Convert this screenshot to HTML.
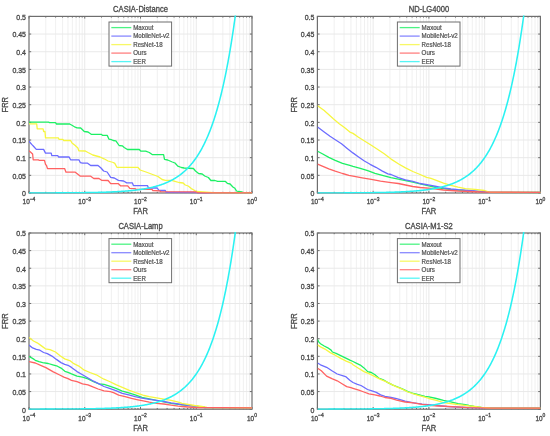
<!DOCTYPE html><html><head><meta charset="utf-8"><style>html,body{margin:0;padding:0;background:#fff;}svg{display:block;}text{font-family:"Liberation Sans",Arial,sans-serif;fill:#4a4a4a;stroke:#4a4a4a;stroke-width:0.3px;}</style></head><body>
<svg width="550" height="436" viewBox="0 0 550 436">
<defs><filter id="bl" x="0" y="0" width="550" height="436" filterUnits="userSpaceOnUse"><feGaussianBlur stdDeviation="0.4"/></filter><clipPath id="cTL"><rect x="29.00" y="15.40" width="223.00" height="178.10"/></clipPath><clipPath id="cTR"><rect x="317.40" y="15.40" width="223.00" height="178.10"/></clipPath><clipPath id="cBL"><rect x="29.00" y="232.00" width="223.00" height="177.70"/></clipPath><clipPath id="cBR"><rect x="317.40" y="232.00" width="223.00" height="177.70"/></clipPath></defs>
<rect width="550" height="436" fill="#fff"/>
<g filter="url(#bl)">
<g><line x1="45.78" y1="16.40" x2="45.78" y2="193.00" stroke="#ececec" stroke-width="0.8" stroke-dasharray="none"/><line x1="55.60" y1="16.40" x2="55.60" y2="193.00" stroke="#ececec" stroke-width="0.8" stroke-dasharray="none"/><line x1="62.56" y1="16.40" x2="62.56" y2="193.00" stroke="#ececec" stroke-width="0.8" stroke-dasharray="none"/><line x1="67.97" y1="16.40" x2="67.97" y2="193.00" stroke="#ececec" stroke-width="0.8" stroke-dasharray="none"/><line x1="72.38" y1="16.40" x2="72.38" y2="193.00" stroke="#ececec" stroke-width="0.8" stroke-dasharray="none"/><line x1="76.11" y1="16.40" x2="76.11" y2="193.00" stroke="#ececec" stroke-width="0.8" stroke-dasharray="none"/><line x1="79.35" y1="16.40" x2="79.35" y2="193.00" stroke="#ececec" stroke-width="0.8" stroke-dasharray="none"/><line x1="82.20" y1="16.40" x2="82.20" y2="193.00" stroke="#ececec" stroke-width="0.8" stroke-dasharray="none"/><line x1="101.53" y1="16.40" x2="101.53" y2="193.00" stroke="#ececec" stroke-width="0.8" stroke-dasharray="none"/><line x1="111.35" y1="16.40" x2="111.35" y2="193.00" stroke="#ececec" stroke-width="0.8" stroke-dasharray="none"/><line x1="118.31" y1="16.40" x2="118.31" y2="193.00" stroke="#ececec" stroke-width="0.8" stroke-dasharray="none"/><line x1="123.72" y1="16.40" x2="123.72" y2="193.00" stroke="#ececec" stroke-width="0.8" stroke-dasharray="none"/><line x1="128.13" y1="16.40" x2="128.13" y2="193.00" stroke="#ececec" stroke-width="0.8" stroke-dasharray="none"/><line x1="131.86" y1="16.40" x2="131.86" y2="193.00" stroke="#ececec" stroke-width="0.8" stroke-dasharray="none"/><line x1="135.10" y1="16.40" x2="135.10" y2="193.00" stroke="#ececec" stroke-width="0.8" stroke-dasharray="none"/><line x1="137.95" y1="16.40" x2="137.95" y2="193.00" stroke="#ececec" stroke-width="0.8" stroke-dasharray="none"/><line x1="157.28" y1="16.40" x2="157.28" y2="193.00" stroke="#ececec" stroke-width="0.8" stroke-dasharray="none"/><line x1="167.10" y1="16.40" x2="167.10" y2="193.00" stroke="#ececec" stroke-width="0.8" stroke-dasharray="none"/><line x1="174.06" y1="16.40" x2="174.06" y2="193.00" stroke="#ececec" stroke-width="0.8" stroke-dasharray="none"/><line x1="179.47" y1="16.40" x2="179.47" y2="193.00" stroke="#ececec" stroke-width="0.8" stroke-dasharray="none"/><line x1="183.88" y1="16.40" x2="183.88" y2="193.00" stroke="#ececec" stroke-width="0.8" stroke-dasharray="none"/><line x1="187.61" y1="16.40" x2="187.61" y2="193.00" stroke="#ececec" stroke-width="0.8" stroke-dasharray="none"/><line x1="190.85" y1="16.40" x2="190.85" y2="193.00" stroke="#ececec" stroke-width="0.8" stroke-dasharray="none"/><line x1="193.70" y1="16.40" x2="193.70" y2="193.00" stroke="#ececec" stroke-width="0.8" stroke-dasharray="none"/><line x1="213.03" y1="16.40" x2="213.03" y2="193.00" stroke="#ececec" stroke-width="0.8" stroke-dasharray="none"/><line x1="222.85" y1="16.40" x2="222.85" y2="193.00" stroke="#ececec" stroke-width="0.8" stroke-dasharray="none"/><line x1="229.81" y1="16.40" x2="229.81" y2="193.00" stroke="#ececec" stroke-width="0.8" stroke-dasharray="none"/><line x1="235.22" y1="16.40" x2="235.22" y2="193.00" stroke="#ececec" stroke-width="0.8" stroke-dasharray="none"/><line x1="239.63" y1="16.40" x2="239.63" y2="193.00" stroke="#ececec" stroke-width="0.8" stroke-dasharray="none"/><line x1="243.36" y1="16.40" x2="243.36" y2="193.00" stroke="#ececec" stroke-width="0.8" stroke-dasharray="none"/><line x1="246.60" y1="16.40" x2="246.60" y2="193.00" stroke="#ececec" stroke-width="0.8" stroke-dasharray="none"/><line x1="249.45" y1="16.40" x2="249.45" y2="193.00" stroke="#ececec" stroke-width="0.8" stroke-dasharray="none"/><line x1="84.75" y1="16.40" x2="84.75" y2="193.00" stroke="#e9e9e9" stroke-width="1"/><line x1="140.50" y1="16.40" x2="140.50" y2="193.00" stroke="#e9e9e9" stroke-width="1"/><line x1="196.25" y1="16.40" x2="196.25" y2="193.00" stroke="#e9e9e9" stroke-width="1"/><line x1="29.00" y1="175.34" x2="252.00" y2="175.34" stroke="#e9e9e9" stroke-width="1"/><line x1="29.00" y1="157.68" x2="252.00" y2="157.68" stroke="#e9e9e9" stroke-width="1"/><line x1="29.00" y1="140.02" x2="252.00" y2="140.02" stroke="#e9e9e9" stroke-width="1"/><line x1="29.00" y1="122.36" x2="252.00" y2="122.36" stroke="#e9e9e9" stroke-width="1"/><line x1="29.00" y1="104.70" x2="252.00" y2="104.70" stroke="#e9e9e9" stroke-width="1"/><line x1="29.00" y1="87.04" x2="252.00" y2="87.04" stroke="#e9e9e9" stroke-width="1"/><line x1="29.00" y1="69.38" x2="252.00" y2="69.38" stroke="#e9e9e9" stroke-width="1"/><line x1="29.00" y1="51.72" x2="252.00" y2="51.72" stroke="#e9e9e9" stroke-width="1"/><line x1="29.00" y1="34.06" x2="252.00" y2="34.06" stroke="#e9e9e9" stroke-width="1"/></g>
<rect x="29.00" y="16.40" width="223.00" height="176.60" fill="none" stroke="#6e6e6e" stroke-width="1.2"/>
<path d="M29.00 193.00h2.20M252.00 193.00h-2.20M29.00 175.34h2.20M252.00 175.34h-2.20M29.00 157.68h2.20M252.00 157.68h-2.20M29.00 140.02h2.20M252.00 140.02h-2.20M29.00 122.36h2.20M252.00 122.36h-2.20M29.00 104.70h2.20M252.00 104.70h-2.20M29.00 87.04h2.20M252.00 87.04h-2.20M29.00 69.38h2.20M252.00 69.38h-2.20M29.00 51.72h2.20M252.00 51.72h-2.20M29.00 34.06h2.20M252.00 34.06h-2.20M29.00 16.40h2.20M252.00 16.40h-2.20M29.00 193.00v-2.20M29.00 16.40v2.20M84.75 193.00v-2.20M84.75 16.40v2.20M140.50 193.00v-2.20M140.50 16.40v2.20M196.25 193.00v-2.20M196.25 16.40v2.20M252.00 193.00v-2.20M252.00 16.40v2.20M45.78 193.00v-1.20M45.78 16.40v1.20M55.60 193.00v-1.20M55.60 16.40v1.20M62.56 193.00v-1.20M62.56 16.40v1.20M67.97 193.00v-1.20M67.97 16.40v1.20M72.38 193.00v-1.20M72.38 16.40v1.20M76.11 193.00v-1.20M76.11 16.40v1.20M79.35 193.00v-1.20M79.35 16.40v1.20M82.20 193.00v-1.20M82.20 16.40v1.20M101.53 193.00v-1.20M101.53 16.40v1.20M111.35 193.00v-1.20M111.35 16.40v1.20M118.31 193.00v-1.20M118.31 16.40v1.20M123.72 193.00v-1.20M123.72 16.40v1.20M128.13 193.00v-1.20M128.13 16.40v1.20M131.86 193.00v-1.20M131.86 16.40v1.20M135.10 193.00v-1.20M135.10 16.40v1.20M137.95 193.00v-1.20M137.95 16.40v1.20M157.28 193.00v-1.20M157.28 16.40v1.20M167.10 193.00v-1.20M167.10 16.40v1.20M174.06 193.00v-1.20M174.06 16.40v1.20M179.47 193.00v-1.20M179.47 16.40v1.20M183.88 193.00v-1.20M183.88 16.40v1.20M187.61 193.00v-1.20M187.61 16.40v1.20M190.85 193.00v-1.20M190.85 16.40v1.20M193.70 193.00v-1.20M193.70 16.40v1.20M213.03 193.00v-1.20M213.03 16.40v1.20M222.85 193.00v-1.20M222.85 16.40v1.20M229.81 193.00v-1.20M229.81 16.40v1.20M235.22 193.00v-1.20M235.22 16.40v1.20M239.63 193.00v-1.20M239.63 16.40v1.20M243.36 193.00v-1.20M243.36 16.40v1.20M246.60 193.00v-1.20M246.60 16.40v1.20M249.45 193.00v-1.20M249.45 16.40v1.20" stroke="#6e6e6e" stroke-width="1" fill="none"/>
<g clip-path="url(#cTL)"><polyline points="29.00,122.20 48.60,122.20 49.50,122.60 55.50,122.60 56.50,124.00 69.70,124.00 72.40,125.50 75.20,127.20 77.00,127.80 80.70,128.00 84.30,131.50 88.00,132.00 91.20,134.30 101.30,134.30 102.70,135.40 107.20,135.40 109.00,139.20 111.30,139.70 113.20,140.50 115.90,140.80 119.10,145.50 122.30,145.80 124.20,147.50 127.40,149.50 139.30,149.50 140.70,151.00 145.70,151.20 149.30,152.50 152.10,154.60 163.60,154.60 164.50,159.40 167.70,160.00 172.30,162.00 175.00,163.00 177.80,166.10 181.40,167.50 184.10,168.00 193.40,168.50 195.50,171.00 198.60,173.50 202.20,174.00 204.70,176.00 208.40,177.50 210.90,180.50 215.00,180.50 217.60,181.30 225.20,181.30 227.30,183.30 230.10,184.00 232.90,187.00 234.90,188.30 236.50,191.00 238.10,191.50 242.10,191.80 242.90,192.80 252.00,193.00" fill="none" stroke="#1ef064" stroke-width="1.3" stroke-linejoin="round"/><polyline points="29.00,141.10 30.50,143.00 31.70,144.40 33.50,146.20 36.30,149.40 43.60,149.40 45.50,153.10 51.20,153.10 51.80,155.70 57.90,155.70 58.50,157.00 69.10,157.00 70.60,159.80 78.90,159.80 80.40,162.70 82.50,163.20 87.60,163.20 90.70,165.50 98.00,165.50 101.00,168.00 103.60,171.00 107.10,172.00 110.70,177.30 114.30,178.00 118.40,180.40 123.60,181.00 126.70,182.90 132.40,182.90 133.40,185.50 147.60,185.70 148.40,188.00 157.30,188.00 158.90,190.50 165.30,190.50 166.10,192.30 196.00,192.50 198.00,193.00 252.00,193.00" fill="none" stroke="#6c6cff" stroke-width="1.3" stroke-linejoin="round"/><polyline points="29.00,123.90 36.70,123.90 37.20,128.80 43.10,128.80 43.60,131.50 45.00,131.50 45.50,137.90 58.30,137.90 59.00,139.30 62.90,139.30 63.50,140.50 70.60,140.50 72.00,143.00 75.20,145.60 77.90,148.00 78.80,150.80 85.30,151.00 88.00,152.50 92.80,155.00 100.00,157.00 104.00,158.80 108.10,161.00 113.30,162.50 114.80,163.40 116.90,167.30 138.00,167.30 140.10,170.00 146.00,172.00 150.00,173.50 154.00,175.00 158.00,176.50 162.10,179.50 165.30,180.30 171.70,180.30 175.00,181.30 179.00,182.50 183.10,183.00 185.20,185.00 188.20,186.00 191.30,188.60 193.90,190.00 196.00,191.50 209.90,192.50 215.00,193.00 252.00,193.00" fill="none" stroke="#f6f640" stroke-width="1.3" stroke-linejoin="round"/><polyline points="29.00,150.80 31.00,152.50 32.60,154.00 33.20,159.80 38.30,159.80 39.00,160.30 44.50,160.30 45.50,164.40 46.50,165.50 47.50,168.60 64.60,168.60 66.00,172.20 75.30,172.20 80.40,176.20 90.70,176.20 93.80,178.50 99.00,178.50 101.60,180.30 108.10,180.50 110.70,183.70 118.40,183.70 120.50,185.80 127.70,185.80 129.80,188.30 134.90,188.60 136.00,189.40 152.00,189.40 152.80,190.50 159.70,190.80 160.50,191.60 196.00,191.80 198.00,193.00 252.00,193.00" fill="none" stroke="#ff6262" stroke-width="1.3" stroke-linejoin="round"/><polyline points="29.00,192.96 29.56,192.96 30.11,192.96 30.67,192.96 31.23,192.96 31.79,192.96 32.34,192.96 32.90,192.96 33.46,192.96 34.02,192.96 34.57,192.96 35.13,192.95 35.69,192.95 36.25,192.95 36.80,192.95 37.36,192.95 37.92,192.95 38.48,192.95 39.03,192.95 39.59,192.95 40.15,192.94 40.71,192.94 41.26,192.94 41.82,192.94 42.38,192.94 42.94,192.94 43.49,192.94 44.05,192.93 44.61,192.93 45.17,192.93 45.72,192.93 46.28,192.93 46.84,192.93 47.40,192.92 47.95,192.92 48.51,192.92 49.07,192.92 49.63,192.92 50.18,192.92 50.74,192.91 51.30,192.91 51.86,192.91 52.41,192.91 52.97,192.90 53.53,192.90 54.09,192.90 54.64,192.90 55.20,192.90 55.76,192.89 56.32,192.89 56.87,192.89 57.43,192.89 57.99,192.88 58.55,192.88 59.10,192.88 59.66,192.87 60.22,192.87 60.78,192.87 61.33,192.87 61.89,192.86 62.45,192.86 63.01,192.86 63.56,192.85 64.12,192.85 64.68,192.85 65.24,192.84 65.79,192.84 66.35,192.83 66.91,192.83 67.47,192.83 68.02,192.82 68.58,192.82 69.14,192.81 69.70,192.81 70.25,192.81 70.81,192.80 71.37,192.80 71.93,192.79 72.48,192.79 73.04,192.78 73.60,192.78 74.16,192.77 74.71,192.77 75.27,192.76 75.83,192.76 76.39,192.75 76.94,192.74 77.50,192.74 78.06,192.73 78.62,192.73 79.17,192.72 79.73,192.71 80.29,192.71 80.85,192.70 81.40,192.69 81.96,192.69 82.52,192.68 83.08,192.67 83.63,192.66 84.19,192.65 84.75,192.65 85.31,192.64 85.86,192.63 86.42,192.62 86.98,192.61 87.54,192.60 88.09,192.59 88.65,192.59 89.21,192.58 89.77,192.57 90.32,192.56 90.88,192.54 91.44,192.53 92.00,192.52 92.55,192.51 93.11,192.50 93.67,192.49 94.23,192.48 94.78,192.47 95.34,192.45 95.90,192.44 96.46,192.43 97.01,192.41 97.57,192.40 98.13,192.39 98.69,192.37 99.24,192.36 99.80,192.34 100.36,192.33 100.92,192.31 101.47,192.30 102.03,192.28 102.59,192.26 103.15,192.24 103.70,192.23 104.26,192.21 104.82,192.19 105.38,192.17 105.93,192.15 106.49,192.13 107.05,192.11 107.61,192.09 108.16,192.07 108.72,192.05 109.28,192.03 109.84,192.00 110.39,191.98 110.95,191.96 111.51,191.93 112.07,191.91 112.62,191.88 113.18,191.86 113.74,191.83 114.30,191.80 114.85,191.78 115.41,191.75 115.97,191.72 116.53,191.69 117.08,191.66 117.64,191.63 118.20,191.59 118.76,191.56 119.31,191.53 119.87,191.49 120.43,191.46 120.99,191.42 121.54,191.39 122.10,191.35 122.66,191.31 123.22,191.27 123.77,191.23 124.33,191.19 124.89,191.15 125.45,191.10 126.00,191.06 126.56,191.01 127.12,190.97 127.68,190.92 128.23,190.87 128.79,190.82 129.35,190.77 129.91,190.72 130.46,190.67 131.02,190.61 131.58,190.56 132.14,190.50 132.69,190.44 133.25,190.38 133.81,190.32 134.37,190.26 134.92,190.19 135.48,190.13 136.04,190.06 136.60,189.99 137.15,189.92 137.71,189.85 138.27,189.78 138.83,189.70 139.38,189.63 139.94,189.55 140.50,189.47 141.06,189.39 141.61,189.30 142.17,189.22 142.73,189.13 143.29,189.04 143.84,188.94 144.40,188.85 144.96,188.75 145.52,188.65 146.07,188.55 146.63,188.45 147.19,188.34 147.75,188.24 148.30,188.12 148.86,188.01 149.42,187.89 149.98,187.78 150.53,187.65 151.09,187.53 151.65,187.40 152.21,187.27 152.76,187.14 153.32,187.00 153.88,186.86 154.44,186.72 154.99,186.57 155.55,186.42 156.11,186.27 156.67,186.11 157.22,185.95 157.78,185.79 158.34,185.62 158.90,185.45 159.45,185.27 160.01,185.09 160.57,184.91 161.13,184.72 161.68,184.53 162.24,184.33 162.80,184.13 163.36,183.92 163.91,183.71 164.47,183.49 165.03,183.27 165.59,183.05 166.14,182.81 166.70,182.58 167.26,182.33 167.82,182.09 168.37,181.83 168.93,181.57 169.49,181.30 170.05,181.03 170.60,180.75 171.16,180.47 171.72,180.18 172.28,179.88 172.83,179.57 173.39,179.26 173.95,178.94 174.51,178.61 175.06,178.28 175.62,177.93 176.18,177.58 176.74,177.22 177.29,176.86 177.85,176.48 178.41,176.09 178.97,175.70 179.52,175.30 180.08,174.89 180.64,174.46 181.20,174.03 181.75,173.59 182.31,173.14 182.87,172.68 183.43,172.20 183.98,171.72 184.54,171.22 185.10,170.71 185.66,170.20 186.21,169.66 186.77,169.12 187.33,168.56 187.89,168.00 188.44,167.41 189.00,166.82 189.56,166.21 190.12,165.58 190.67,164.94 191.23,164.29 191.79,163.62 192.35,162.94 192.90,162.24 193.46,161.52 194.02,160.79 194.58,160.04 195.13,159.27 195.69,158.48 196.25,157.68 196.81,156.86 197.36,156.02 197.92,155.15 198.48,154.27 199.04,153.37 199.59,152.45 200.15,151.50 200.71,150.54 201.27,149.55 201.82,148.53 202.38,147.50 202.94,146.44 203.50,145.35 204.05,144.24 204.61,143.11 205.17,141.95 205.73,140.76 206.28,139.54 206.84,138.30 207.40,137.02 207.96,135.72 208.51,134.38 209.07,133.02 209.63,131.62 210.19,130.19 210.74,128.73 211.30,127.23 211.86,125.70 212.42,124.13 212.97,122.53 213.53,120.89 214.09,119.21 214.65,117.49 215.20,115.73 215.76,113.93 216.32,112.09 216.88,110.20 217.43,108.27 217.99,106.30 218.55,104.28 219.11,102.21 219.66,100.10 220.22,97.93 220.78,95.72 221.34,93.45 221.89,91.14 222.45,88.76 223.01,86.34 223.57,83.85 224.12,81.31 224.68,78.71 225.24,76.04 225.80,73.32 226.35,70.53 226.91,67.68 227.47,64.76 228.03,61.77 228.58,58.72 229.14,55.59 229.70,52.39 230.26,49.11 230.81,45.76 231.37,42.33 231.93,38.82 232.49,35.23 233.04,31.56 233.60,27.80 234.16,23.95 234.72,20.01 235.27,15.98 235.83,11.86" fill="none" stroke="#2af2f2" stroke-width="1.55" stroke-linejoin="round"/></g>
<text transform="translate(26.00 196.30) scale(1 1.080)" font-size="7" text-anchor="end">0</text>
<text transform="translate(26.00 178.64) scale(1 1.080)" font-size="7" text-anchor="end">0.05</text>
<text transform="translate(26.00 160.98) scale(1 1.080)" font-size="7" text-anchor="end">0.1</text>
<text transform="translate(26.00 143.32) scale(1 1.080)" font-size="7" text-anchor="end">0.15</text>
<text transform="translate(26.00 125.66) scale(1 1.080)" font-size="7" text-anchor="end">0.2</text>
<text transform="translate(26.00 108.00) scale(1 1.080)" font-size="7" text-anchor="end">0.25</text>
<text transform="translate(26.00 90.34) scale(1 1.080)" font-size="7" text-anchor="end">0.3</text>
<text transform="translate(26.00 72.68) scale(1 1.080)" font-size="7" text-anchor="end">0.35</text>
<text transform="translate(26.00 55.02) scale(1 1.080)" font-size="7" text-anchor="end">0.4</text>
<text transform="translate(26.00 37.36) scale(1 1.080)" font-size="7" text-anchor="end">0.45</text>
<text transform="translate(26.00 19.70) scale(1 1.080)" font-size="7" text-anchor="end">0.5</text>
<text transform="translate(29.00 204.30) scale(1 1.080)" font-size="6.4" text-anchor="middle">10<tspan font-size="5" dy="-2.9">−4</tspan></text>
<text transform="translate(84.75 204.30) scale(1 1.080)" font-size="6.4" text-anchor="middle">10<tspan font-size="5" dy="-2.9">−3</tspan></text>
<text transform="translate(140.50 204.30) scale(1 1.080)" font-size="6.4" text-anchor="middle">10<tspan font-size="5" dy="-2.9">−2</tspan></text>
<text transform="translate(196.25 204.30) scale(1 1.080)" font-size="6.4" text-anchor="middle">10<tspan font-size="5" dy="-2.9">−1</tspan></text>
<text transform="translate(252.00 204.30) scale(1 1.080)" font-size="6.4" text-anchor="middle">10<tspan font-size="5" dy="-2.9">0</tspan></text>
<text transform="translate(140.50 214.40) scale(1 1.080)" font-size="7.6" text-anchor="middle">FAR</text>
<text transform="translate(8.40 104.70) rotate(-90) scale(1 1.080)" font-size="7.6" text-anchor="middle">FRR</text>
<text transform="translate(140.50 12.30) scale(1 1.080)" font-size="7.6" text-anchor="middle">CASIA-Distance</text>
<g><line x1="334.18" y1="16.40" x2="334.18" y2="193.00" stroke="#ececec" stroke-width="0.8" stroke-dasharray="none"/><line x1="344.00" y1="16.40" x2="344.00" y2="193.00" stroke="#ececec" stroke-width="0.8" stroke-dasharray="none"/><line x1="350.96" y1="16.40" x2="350.96" y2="193.00" stroke="#ececec" stroke-width="0.8" stroke-dasharray="none"/><line x1="356.37" y1="16.40" x2="356.37" y2="193.00" stroke="#ececec" stroke-width="0.8" stroke-dasharray="none"/><line x1="360.78" y1="16.40" x2="360.78" y2="193.00" stroke="#ececec" stroke-width="0.8" stroke-dasharray="none"/><line x1="364.51" y1="16.40" x2="364.51" y2="193.00" stroke="#ececec" stroke-width="0.8" stroke-dasharray="none"/><line x1="367.75" y1="16.40" x2="367.75" y2="193.00" stroke="#ececec" stroke-width="0.8" stroke-dasharray="none"/><line x1="370.60" y1="16.40" x2="370.60" y2="193.00" stroke="#ececec" stroke-width="0.8" stroke-dasharray="none"/><line x1="389.93" y1="16.40" x2="389.93" y2="193.00" stroke="#ececec" stroke-width="0.8" stroke-dasharray="none"/><line x1="399.75" y1="16.40" x2="399.75" y2="193.00" stroke="#ececec" stroke-width="0.8" stroke-dasharray="none"/><line x1="406.71" y1="16.40" x2="406.71" y2="193.00" stroke="#ececec" stroke-width="0.8" stroke-dasharray="none"/><line x1="412.12" y1="16.40" x2="412.12" y2="193.00" stroke="#ececec" stroke-width="0.8" stroke-dasharray="none"/><line x1="416.53" y1="16.40" x2="416.53" y2="193.00" stroke="#ececec" stroke-width="0.8" stroke-dasharray="none"/><line x1="420.26" y1="16.40" x2="420.26" y2="193.00" stroke="#ececec" stroke-width="0.8" stroke-dasharray="none"/><line x1="423.50" y1="16.40" x2="423.50" y2="193.00" stroke="#ececec" stroke-width="0.8" stroke-dasharray="none"/><line x1="426.35" y1="16.40" x2="426.35" y2="193.00" stroke="#ececec" stroke-width="0.8" stroke-dasharray="none"/><line x1="445.68" y1="16.40" x2="445.68" y2="193.00" stroke="#ececec" stroke-width="0.8" stroke-dasharray="none"/><line x1="455.50" y1="16.40" x2="455.50" y2="193.00" stroke="#ececec" stroke-width="0.8" stroke-dasharray="none"/><line x1="462.46" y1="16.40" x2="462.46" y2="193.00" stroke="#ececec" stroke-width="0.8" stroke-dasharray="none"/><line x1="467.87" y1="16.40" x2="467.87" y2="193.00" stroke="#ececec" stroke-width="0.8" stroke-dasharray="none"/><line x1="472.28" y1="16.40" x2="472.28" y2="193.00" stroke="#ececec" stroke-width="0.8" stroke-dasharray="none"/><line x1="476.01" y1="16.40" x2="476.01" y2="193.00" stroke="#ececec" stroke-width="0.8" stroke-dasharray="none"/><line x1="479.25" y1="16.40" x2="479.25" y2="193.00" stroke="#ececec" stroke-width="0.8" stroke-dasharray="none"/><line x1="482.10" y1="16.40" x2="482.10" y2="193.00" stroke="#ececec" stroke-width="0.8" stroke-dasharray="none"/><line x1="501.43" y1="16.40" x2="501.43" y2="193.00" stroke="#ececec" stroke-width="0.8" stroke-dasharray="none"/><line x1="511.25" y1="16.40" x2="511.25" y2="193.00" stroke="#ececec" stroke-width="0.8" stroke-dasharray="none"/><line x1="518.21" y1="16.40" x2="518.21" y2="193.00" stroke="#ececec" stroke-width="0.8" stroke-dasharray="none"/><line x1="523.62" y1="16.40" x2="523.62" y2="193.00" stroke="#ececec" stroke-width="0.8" stroke-dasharray="none"/><line x1="528.03" y1="16.40" x2="528.03" y2="193.00" stroke="#ececec" stroke-width="0.8" stroke-dasharray="none"/><line x1="531.76" y1="16.40" x2="531.76" y2="193.00" stroke="#ececec" stroke-width="0.8" stroke-dasharray="none"/><line x1="535.00" y1="16.40" x2="535.00" y2="193.00" stroke="#ececec" stroke-width="0.8" stroke-dasharray="none"/><line x1="537.85" y1="16.40" x2="537.85" y2="193.00" stroke="#ececec" stroke-width="0.8" stroke-dasharray="none"/><line x1="373.15" y1="16.40" x2="373.15" y2="193.00" stroke="#e9e9e9" stroke-width="1"/><line x1="428.90" y1="16.40" x2="428.90" y2="193.00" stroke="#e9e9e9" stroke-width="1"/><line x1="484.65" y1="16.40" x2="484.65" y2="193.00" stroke="#e9e9e9" stroke-width="1"/><line x1="317.40" y1="175.34" x2="540.40" y2="175.34" stroke="#e9e9e9" stroke-width="1"/><line x1="317.40" y1="157.68" x2="540.40" y2="157.68" stroke="#e9e9e9" stroke-width="1"/><line x1="317.40" y1="140.02" x2="540.40" y2="140.02" stroke="#e9e9e9" stroke-width="1"/><line x1="317.40" y1="122.36" x2="540.40" y2="122.36" stroke="#e9e9e9" stroke-width="1"/><line x1="317.40" y1="104.70" x2="540.40" y2="104.70" stroke="#e9e9e9" stroke-width="1"/><line x1="317.40" y1="87.04" x2="540.40" y2="87.04" stroke="#e9e9e9" stroke-width="1"/><line x1="317.40" y1="69.38" x2="540.40" y2="69.38" stroke="#e9e9e9" stroke-width="1"/><line x1="317.40" y1="51.72" x2="540.40" y2="51.72" stroke="#e9e9e9" stroke-width="1"/><line x1="317.40" y1="34.06" x2="540.40" y2="34.06" stroke="#e9e9e9" stroke-width="1"/></g>
<rect x="317.40" y="16.40" width="223.00" height="176.60" fill="none" stroke="#6e6e6e" stroke-width="1.2"/>
<path d="M317.40 193.00h2.20M540.40 193.00h-2.20M317.40 175.34h2.20M540.40 175.34h-2.20M317.40 157.68h2.20M540.40 157.68h-2.20M317.40 140.02h2.20M540.40 140.02h-2.20M317.40 122.36h2.20M540.40 122.36h-2.20M317.40 104.70h2.20M540.40 104.70h-2.20M317.40 87.04h2.20M540.40 87.04h-2.20M317.40 69.38h2.20M540.40 69.38h-2.20M317.40 51.72h2.20M540.40 51.72h-2.20M317.40 34.06h2.20M540.40 34.06h-2.20M317.40 16.40h2.20M540.40 16.40h-2.20M317.40 193.00v-2.20M317.40 16.40v2.20M373.15 193.00v-2.20M373.15 16.40v2.20M428.90 193.00v-2.20M428.90 16.40v2.20M484.65 193.00v-2.20M484.65 16.40v2.20M540.40 193.00v-2.20M540.40 16.40v2.20M334.18 193.00v-1.20M334.18 16.40v1.20M344.00 193.00v-1.20M344.00 16.40v1.20M350.96 193.00v-1.20M350.96 16.40v1.20M356.37 193.00v-1.20M356.37 16.40v1.20M360.78 193.00v-1.20M360.78 16.40v1.20M364.51 193.00v-1.20M364.51 16.40v1.20M367.75 193.00v-1.20M367.75 16.40v1.20M370.60 193.00v-1.20M370.60 16.40v1.20M389.93 193.00v-1.20M389.93 16.40v1.20M399.75 193.00v-1.20M399.75 16.40v1.20M406.71 193.00v-1.20M406.71 16.40v1.20M412.12 193.00v-1.20M412.12 16.40v1.20M416.53 193.00v-1.20M416.53 16.40v1.20M420.26 193.00v-1.20M420.26 16.40v1.20M423.50 193.00v-1.20M423.50 16.40v1.20M426.35 193.00v-1.20M426.35 16.40v1.20M445.68 193.00v-1.20M445.68 16.40v1.20M455.50 193.00v-1.20M455.50 16.40v1.20M462.46 193.00v-1.20M462.46 16.40v1.20M467.87 193.00v-1.20M467.87 16.40v1.20M472.28 193.00v-1.20M472.28 16.40v1.20M476.01 193.00v-1.20M476.01 16.40v1.20M479.25 193.00v-1.20M479.25 16.40v1.20M482.10 193.00v-1.20M482.10 16.40v1.20M501.43 193.00v-1.20M501.43 16.40v1.20M511.25 193.00v-1.20M511.25 16.40v1.20M518.21 193.00v-1.20M518.21 16.40v1.20M523.62 193.00v-1.20M523.62 16.40v1.20M528.03 193.00v-1.20M528.03 16.40v1.20M531.76 193.00v-1.20M531.76 16.40v1.20M535.00 193.00v-1.20M535.00 16.40v1.20M537.85 193.00v-1.20M537.85 16.40v1.20" stroke="#6e6e6e" stroke-width="1" fill="none"/>
<g clip-path="url(#cTR)"><polyline points="317.60,151.20 322.30,153.80 328.80,157.40 335.20,160.40 342.50,163.40 348.90,165.10 353.00,166.40 360.30,168.30 367.70,170.60 375.00,173.30 383.30,175.60 391.00,177.70 398.30,179.20 405.50,180.60 412.80,182.10 420.10,183.90 431.00,186.30 436.30,187.50 450.80,189.50 469.00,190.80 480.00,191.60 490.00,192.40 541.00,192.50" fill="none" stroke="#1ef064" stroke-width="1.3" stroke-linejoin="round"/><polyline points="317.60,127.10 324.20,132.10 330.00,136.30 335.70,140.00 341.50,143.80 347.20,148.40 352.90,152.90 358.60,157.00 364.40,161.00 370.10,164.30 375.90,167.30 382.40,171.10 387.90,173.80 391.00,174.50 398.30,177.70 405.50,179.90 412.80,181.40 420.10,183.50 431.00,185.40 436.30,186.50 443.50,187.90 450.80,189.00 458.10,189.70 469.00,190.50 480.00,191.50 490.00,192.40 541.00,192.50" fill="none" stroke="#6c6cff" stroke-width="1.3" stroke-linejoin="round"/><polyline points="317.60,105.70 324.20,110.60 327.80,113.80 333.30,118.80 338.90,123.40 344.40,127.50 349.90,132.10 353.00,133.40 358.50,137.30 364.90,141.20 371.30,145.30 377.80,149.50 384.20,153.80 391.10,159.10 399.10,164.20 405.50,167.90 412.80,171.50 420.10,174.50 426.60,177.40 431.00,178.30 436.30,180.30 443.50,183.20 450.80,185.40 458.10,187.20 465.40,188.60 475.00,189.30 484.50,190.50 490.00,192.30 541.00,192.50" fill="none" stroke="#f6f640" stroke-width="1.3" stroke-linejoin="round"/><polyline points="317.60,164.10 322.30,166.10 328.80,168.90 335.20,171.20 342.50,173.50 348.90,175.30 353.00,176.10 362.20,177.80 371.30,179.30 380.50,181.10 391.00,182.60 398.30,183.50 405.50,185.00 412.80,186.50 420.10,187.50 431.00,188.40 436.30,189.00 443.50,190.00 458.00,191.00 469.00,191.50 480.00,192.00 541.00,192.40" fill="none" stroke="#ff6262" stroke-width="1.3" stroke-linejoin="round"/><polyline points="317.40,192.96 317.96,192.96 318.51,192.96 319.07,192.96 319.63,192.96 320.19,192.96 320.74,192.96 321.30,192.96 321.86,192.96 322.42,192.96 322.97,192.96 323.53,192.95 324.09,192.95 324.65,192.95 325.20,192.95 325.76,192.95 326.32,192.95 326.88,192.95 327.43,192.95 327.99,192.95 328.55,192.94 329.11,192.94 329.66,192.94 330.22,192.94 330.78,192.94 331.34,192.94 331.89,192.94 332.45,192.93 333.01,192.93 333.57,192.93 334.12,192.93 334.68,192.93 335.24,192.93 335.80,192.92 336.35,192.92 336.91,192.92 337.47,192.92 338.03,192.92 338.58,192.92 339.14,192.91 339.70,192.91 340.26,192.91 340.81,192.91 341.37,192.90 341.93,192.90 342.49,192.90 343.04,192.90 343.60,192.90 344.16,192.89 344.72,192.89 345.27,192.89 345.83,192.89 346.39,192.88 346.95,192.88 347.50,192.88 348.06,192.87 348.62,192.87 349.18,192.87 349.73,192.87 350.29,192.86 350.85,192.86 351.41,192.86 351.96,192.85 352.52,192.85 353.08,192.85 353.64,192.84 354.19,192.84 354.75,192.83 355.31,192.83 355.87,192.83 356.42,192.82 356.98,192.82 357.54,192.81 358.10,192.81 358.65,192.81 359.21,192.80 359.77,192.80 360.33,192.79 360.88,192.79 361.44,192.78 362.00,192.78 362.56,192.77 363.11,192.77 363.67,192.76 364.23,192.76 364.79,192.75 365.34,192.74 365.90,192.74 366.46,192.73 367.02,192.73 367.57,192.72 368.13,192.71 368.69,192.71 369.25,192.70 369.80,192.69 370.36,192.69 370.92,192.68 371.48,192.67 372.03,192.66 372.59,192.65 373.15,192.65 373.71,192.64 374.26,192.63 374.82,192.62 375.38,192.61 375.94,192.60 376.49,192.59 377.05,192.59 377.61,192.58 378.17,192.57 378.72,192.56 379.28,192.54 379.84,192.53 380.40,192.52 380.95,192.51 381.51,192.50 382.07,192.49 382.63,192.48 383.18,192.47 383.74,192.45 384.30,192.44 384.86,192.43 385.41,192.41 385.97,192.40 386.53,192.39 387.09,192.37 387.64,192.36 388.20,192.34 388.76,192.33 389.32,192.31 389.87,192.30 390.43,192.28 390.99,192.26 391.55,192.24 392.10,192.23 392.66,192.21 393.22,192.19 393.78,192.17 394.33,192.15 394.89,192.13 395.45,192.11 396.01,192.09 396.56,192.07 397.12,192.05 397.68,192.03 398.24,192.00 398.79,191.98 399.35,191.96 399.91,191.93 400.47,191.91 401.02,191.88 401.58,191.86 402.14,191.83 402.70,191.80 403.25,191.78 403.81,191.75 404.37,191.72 404.93,191.69 405.48,191.66 406.04,191.63 406.60,191.59 407.16,191.56 407.71,191.53 408.27,191.49 408.83,191.46 409.39,191.42 409.94,191.39 410.50,191.35 411.06,191.31 411.62,191.27 412.17,191.23 412.73,191.19 413.29,191.15 413.85,191.10 414.40,191.06 414.96,191.01 415.52,190.97 416.08,190.92 416.63,190.87 417.19,190.82 417.75,190.77 418.31,190.72 418.86,190.67 419.42,190.61 419.98,190.56 420.54,190.50 421.09,190.44 421.65,190.38 422.21,190.32 422.77,190.26 423.32,190.19 423.88,190.13 424.44,190.06 425.00,189.99 425.55,189.92 426.11,189.85 426.67,189.78 427.23,189.70 427.78,189.63 428.34,189.55 428.90,189.47 429.46,189.39 430.01,189.30 430.57,189.22 431.13,189.13 431.69,189.04 432.24,188.94 432.80,188.85 433.36,188.75 433.92,188.65 434.47,188.55 435.03,188.45 435.59,188.34 436.15,188.24 436.70,188.12 437.26,188.01 437.82,187.89 438.38,187.78 438.93,187.65 439.49,187.53 440.05,187.40 440.61,187.27 441.16,187.14 441.72,187.00 442.28,186.86 442.84,186.72 443.39,186.57 443.95,186.42 444.51,186.27 445.07,186.11 445.62,185.95 446.18,185.79 446.74,185.62 447.30,185.45 447.85,185.27 448.41,185.09 448.97,184.91 449.53,184.72 450.08,184.53 450.64,184.33 451.20,184.13 451.76,183.92 452.31,183.71 452.87,183.49 453.43,183.27 453.99,183.05 454.54,182.81 455.10,182.58 455.66,182.33 456.22,182.09 456.77,181.83 457.33,181.57 457.89,181.30 458.45,181.03 459.00,180.75 459.56,180.47 460.12,180.18 460.68,179.88 461.23,179.57 461.79,179.26 462.35,178.94 462.91,178.61 463.46,178.28 464.02,177.93 464.58,177.58 465.14,177.22 465.69,176.86 466.25,176.48 466.81,176.09 467.37,175.70 467.92,175.30 468.48,174.89 469.04,174.46 469.60,174.03 470.15,173.59 470.71,173.14 471.27,172.68 471.83,172.20 472.38,171.72 472.94,171.22 473.50,170.71 474.06,170.20 474.61,169.66 475.17,169.12 475.73,168.56 476.29,168.00 476.84,167.41 477.40,166.82 477.96,166.21 478.52,165.58 479.07,164.94 479.63,164.29 480.19,163.62 480.75,162.94 481.30,162.24 481.86,161.52 482.42,160.79 482.98,160.04 483.53,159.27 484.09,158.48 484.65,157.68 485.21,156.86 485.76,156.02 486.32,155.15 486.88,154.27 487.44,153.37 487.99,152.45 488.55,151.50 489.11,150.54 489.67,149.55 490.22,148.53 490.78,147.50 491.34,146.44 491.90,145.35 492.45,144.24 493.01,143.11 493.57,141.95 494.13,140.76 494.68,139.54 495.24,138.30 495.80,137.02 496.36,135.72 496.91,134.38 497.47,133.02 498.03,131.62 498.59,130.19 499.14,128.73 499.70,127.23 500.26,125.70 500.82,124.13 501.37,122.53 501.93,120.89 502.49,119.21 503.05,117.49 503.60,115.73 504.16,113.93 504.72,112.09 505.28,110.20 505.83,108.27 506.39,106.30 506.95,104.28 507.51,102.21 508.06,100.10 508.62,97.93 509.18,95.72 509.74,93.45 510.29,91.14 510.85,88.76 511.41,86.34 511.97,83.85 512.52,81.31 513.08,78.71 513.64,76.04 514.20,73.32 514.75,70.53 515.31,67.68 515.87,64.76 516.43,61.77 516.98,58.72 517.54,55.59 518.10,52.39 518.66,49.11 519.21,45.76 519.77,42.33 520.33,38.82 520.89,35.23 521.44,31.56 522.00,27.80 522.56,23.95 523.12,20.01 523.67,15.98 524.23,11.86" fill="none" stroke="#2af2f2" stroke-width="1.55" stroke-linejoin="round"/></g>
<text transform="translate(314.40 196.30) scale(1 1.080)" font-size="7" text-anchor="end">0</text>
<text transform="translate(314.40 178.64) scale(1 1.080)" font-size="7" text-anchor="end">0.05</text>
<text transform="translate(314.40 160.98) scale(1 1.080)" font-size="7" text-anchor="end">0.1</text>
<text transform="translate(314.40 143.32) scale(1 1.080)" font-size="7" text-anchor="end">0.15</text>
<text transform="translate(314.40 125.66) scale(1 1.080)" font-size="7" text-anchor="end">0.2</text>
<text transform="translate(314.40 108.00) scale(1 1.080)" font-size="7" text-anchor="end">0.25</text>
<text transform="translate(314.40 90.34) scale(1 1.080)" font-size="7" text-anchor="end">0.3</text>
<text transform="translate(314.40 72.68) scale(1 1.080)" font-size="7" text-anchor="end">0.35</text>
<text transform="translate(314.40 55.02) scale(1 1.080)" font-size="7" text-anchor="end">0.4</text>
<text transform="translate(314.40 37.36) scale(1 1.080)" font-size="7" text-anchor="end">0.45</text>
<text transform="translate(314.40 19.70) scale(1 1.080)" font-size="7" text-anchor="end">0.5</text>
<text transform="translate(317.40 204.30) scale(1 1.080)" font-size="6.4" text-anchor="middle">10<tspan font-size="5" dy="-2.9">−4</tspan></text>
<text transform="translate(373.15 204.30) scale(1 1.080)" font-size="6.4" text-anchor="middle">10<tspan font-size="5" dy="-2.9">−3</tspan></text>
<text transform="translate(428.90 204.30) scale(1 1.080)" font-size="6.4" text-anchor="middle">10<tspan font-size="5" dy="-2.9">−2</tspan></text>
<text transform="translate(484.65 204.30) scale(1 1.080)" font-size="6.4" text-anchor="middle">10<tspan font-size="5" dy="-2.9">−1</tspan></text>
<text transform="translate(540.40 204.30) scale(1 1.080)" font-size="6.4" text-anchor="middle">10<tspan font-size="5" dy="-2.9">0</tspan></text>
<text transform="translate(428.90 214.40) scale(1 1.080)" font-size="7.6" text-anchor="middle">FAR</text>
<text transform="translate(296.80 104.70) rotate(-90) scale(1 1.080)" font-size="7.6" text-anchor="middle">FRR</text>
<text transform="translate(428.90 12.30) scale(1 1.080)" font-size="7.6" text-anchor="middle">ND-LG4000</text>
<g><line x1="45.78" y1="233.00" x2="45.78" y2="409.20" stroke="#ececec" stroke-width="0.8" stroke-dasharray="none"/><line x1="55.60" y1="233.00" x2="55.60" y2="409.20" stroke="#ececec" stroke-width="0.8" stroke-dasharray="none"/><line x1="62.56" y1="233.00" x2="62.56" y2="409.20" stroke="#ececec" stroke-width="0.8" stroke-dasharray="none"/><line x1="67.97" y1="233.00" x2="67.97" y2="409.20" stroke="#ececec" stroke-width="0.8" stroke-dasharray="none"/><line x1="72.38" y1="233.00" x2="72.38" y2="409.20" stroke="#ececec" stroke-width="0.8" stroke-dasharray="none"/><line x1="76.11" y1="233.00" x2="76.11" y2="409.20" stroke="#ececec" stroke-width="0.8" stroke-dasharray="none"/><line x1="79.35" y1="233.00" x2="79.35" y2="409.20" stroke="#ececec" stroke-width="0.8" stroke-dasharray="none"/><line x1="82.20" y1="233.00" x2="82.20" y2="409.20" stroke="#ececec" stroke-width="0.8" stroke-dasharray="none"/><line x1="101.53" y1="233.00" x2="101.53" y2="409.20" stroke="#ececec" stroke-width="0.8" stroke-dasharray="none"/><line x1="111.35" y1="233.00" x2="111.35" y2="409.20" stroke="#ececec" stroke-width="0.8" stroke-dasharray="none"/><line x1="118.31" y1="233.00" x2="118.31" y2="409.20" stroke="#ececec" stroke-width="0.8" stroke-dasharray="none"/><line x1="123.72" y1="233.00" x2="123.72" y2="409.20" stroke="#ececec" stroke-width="0.8" stroke-dasharray="none"/><line x1="128.13" y1="233.00" x2="128.13" y2="409.20" stroke="#ececec" stroke-width="0.8" stroke-dasharray="none"/><line x1="131.86" y1="233.00" x2="131.86" y2="409.20" stroke="#ececec" stroke-width="0.8" stroke-dasharray="none"/><line x1="135.10" y1="233.00" x2="135.10" y2="409.20" stroke="#ececec" stroke-width="0.8" stroke-dasharray="none"/><line x1="137.95" y1="233.00" x2="137.95" y2="409.20" stroke="#ececec" stroke-width="0.8" stroke-dasharray="none"/><line x1="157.28" y1="233.00" x2="157.28" y2="409.20" stroke="#ececec" stroke-width="0.8" stroke-dasharray="none"/><line x1="167.10" y1="233.00" x2="167.10" y2="409.20" stroke="#ececec" stroke-width="0.8" stroke-dasharray="none"/><line x1="174.06" y1="233.00" x2="174.06" y2="409.20" stroke="#ececec" stroke-width="0.8" stroke-dasharray="none"/><line x1="179.47" y1="233.00" x2="179.47" y2="409.20" stroke="#ececec" stroke-width="0.8" stroke-dasharray="none"/><line x1="183.88" y1="233.00" x2="183.88" y2="409.20" stroke="#ececec" stroke-width="0.8" stroke-dasharray="none"/><line x1="187.61" y1="233.00" x2="187.61" y2="409.20" stroke="#ececec" stroke-width="0.8" stroke-dasharray="none"/><line x1="190.85" y1="233.00" x2="190.85" y2="409.20" stroke="#ececec" stroke-width="0.8" stroke-dasharray="none"/><line x1="193.70" y1="233.00" x2="193.70" y2="409.20" stroke="#ececec" stroke-width="0.8" stroke-dasharray="none"/><line x1="213.03" y1="233.00" x2="213.03" y2="409.20" stroke="#ececec" stroke-width="0.8" stroke-dasharray="none"/><line x1="222.85" y1="233.00" x2="222.85" y2="409.20" stroke="#ececec" stroke-width="0.8" stroke-dasharray="none"/><line x1="229.81" y1="233.00" x2="229.81" y2="409.20" stroke="#ececec" stroke-width="0.8" stroke-dasharray="none"/><line x1="235.22" y1="233.00" x2="235.22" y2="409.20" stroke="#ececec" stroke-width="0.8" stroke-dasharray="none"/><line x1="239.63" y1="233.00" x2="239.63" y2="409.20" stroke="#ececec" stroke-width="0.8" stroke-dasharray="none"/><line x1="243.36" y1="233.00" x2="243.36" y2="409.20" stroke="#ececec" stroke-width="0.8" stroke-dasharray="none"/><line x1="246.60" y1="233.00" x2="246.60" y2="409.20" stroke="#ececec" stroke-width="0.8" stroke-dasharray="none"/><line x1="249.45" y1="233.00" x2="249.45" y2="409.20" stroke="#ececec" stroke-width="0.8" stroke-dasharray="none"/><line x1="84.75" y1="233.00" x2="84.75" y2="409.20" stroke="#e9e9e9" stroke-width="1"/><line x1="140.50" y1="233.00" x2="140.50" y2="409.20" stroke="#e9e9e9" stroke-width="1"/><line x1="196.25" y1="233.00" x2="196.25" y2="409.20" stroke="#e9e9e9" stroke-width="1"/><line x1="29.00" y1="391.58" x2="252.00" y2="391.58" stroke="#e9e9e9" stroke-width="1"/><line x1="29.00" y1="373.96" x2="252.00" y2="373.96" stroke="#e9e9e9" stroke-width="1"/><line x1="29.00" y1="356.34" x2="252.00" y2="356.34" stroke="#e9e9e9" stroke-width="1"/><line x1="29.00" y1="338.72" x2="252.00" y2="338.72" stroke="#e9e9e9" stroke-width="1"/><line x1="29.00" y1="321.10" x2="252.00" y2="321.10" stroke="#e9e9e9" stroke-width="1"/><line x1="29.00" y1="303.48" x2="252.00" y2="303.48" stroke="#e9e9e9" stroke-width="1"/><line x1="29.00" y1="285.86" x2="252.00" y2="285.86" stroke="#e9e9e9" stroke-width="1"/><line x1="29.00" y1="268.24" x2="252.00" y2="268.24" stroke="#e9e9e9" stroke-width="1"/><line x1="29.00" y1="250.62" x2="252.00" y2="250.62" stroke="#e9e9e9" stroke-width="1"/></g>
<rect x="29.00" y="233.00" width="223.00" height="176.20" fill="none" stroke="#6e6e6e" stroke-width="1.2"/>
<path d="M29.00 409.20h2.20M252.00 409.20h-2.20M29.00 391.58h2.20M252.00 391.58h-2.20M29.00 373.96h2.20M252.00 373.96h-2.20M29.00 356.34h2.20M252.00 356.34h-2.20M29.00 338.72h2.20M252.00 338.72h-2.20M29.00 321.10h2.20M252.00 321.10h-2.20M29.00 303.48h2.20M252.00 303.48h-2.20M29.00 285.86h2.20M252.00 285.86h-2.20M29.00 268.24h2.20M252.00 268.24h-2.20M29.00 250.62h2.20M252.00 250.62h-2.20M29.00 233.00h2.20M252.00 233.00h-2.20M29.00 409.20v-2.20M29.00 233.00v2.20M84.75 409.20v-2.20M84.75 233.00v2.20M140.50 409.20v-2.20M140.50 233.00v2.20M196.25 409.20v-2.20M196.25 233.00v2.20M252.00 409.20v-2.20M252.00 233.00v2.20M45.78 409.20v-1.20M45.78 233.00v1.20M55.60 409.20v-1.20M55.60 233.00v1.20M62.56 409.20v-1.20M62.56 233.00v1.20M67.97 409.20v-1.20M67.97 233.00v1.20M72.38 409.20v-1.20M72.38 233.00v1.20M76.11 409.20v-1.20M76.11 233.00v1.20M79.35 409.20v-1.20M79.35 233.00v1.20M82.20 409.20v-1.20M82.20 233.00v1.20M101.53 409.20v-1.20M101.53 233.00v1.20M111.35 409.20v-1.20M111.35 233.00v1.20M118.31 409.20v-1.20M118.31 233.00v1.20M123.72 409.20v-1.20M123.72 233.00v1.20M128.13 409.20v-1.20M128.13 233.00v1.20M131.86 409.20v-1.20M131.86 233.00v1.20M135.10 409.20v-1.20M135.10 233.00v1.20M137.95 409.20v-1.20M137.95 233.00v1.20M157.28 409.20v-1.20M157.28 233.00v1.20M167.10 409.20v-1.20M167.10 233.00v1.20M174.06 409.20v-1.20M174.06 233.00v1.20M179.47 409.20v-1.20M179.47 233.00v1.20M183.88 409.20v-1.20M183.88 233.00v1.20M187.61 409.20v-1.20M187.61 233.00v1.20M190.85 409.20v-1.20M190.85 233.00v1.20M193.70 409.20v-1.20M193.70 233.00v1.20M213.03 409.20v-1.20M213.03 233.00v1.20M222.85 409.20v-1.20M222.85 233.00v1.20M229.81 409.20v-1.20M229.81 233.00v1.20M235.22 409.20v-1.20M235.22 233.00v1.20M239.63 409.20v-1.20M239.63 233.00v1.20M243.36 409.20v-1.20M243.36 233.00v1.20M246.60 409.20v-1.20M246.60 233.00v1.20M249.45 409.20v-1.20M249.45 233.00v1.20" stroke="#6e6e6e" stroke-width="1" fill="none"/>
<g clip-path="url(#cBL)"><polyline points="29.00,356.60 32.60,358.40 35.30,360.30 39.00,361.70 42.70,362.60 48.20,363.50 52.80,364.90 57.40,366.20 61.00,368.10 64.90,371.30 68.00,372.30 71.50,373.90 77.00,376.10 82.50,377.10 88.00,378.90 93.50,381.70 99.00,383.90 104.00,384.40 109.50,386.10 115.90,388.30 122.30,391.10 128.80,392.90 135.20,394.80 142.00,397.30 149.30,398.80 156.50,400.40 163.80,401.80 171.10,403.30 178.40,404.40 182.00,404.80 194.50,406.20 205.00,407.50 253.00,407.80" fill="none" stroke="#1ef064" stroke-width="1.3" stroke-linejoin="round"/><polyline points="29.00,345.10 32.60,347.90 36.30,349.30 39.90,350.20 43.60,352.50 47.30,353.70 51.90,356.10 56.40,359.40 61.00,362.60 64.70,364.40 68.00,365.30 71.50,367.40 77.00,371.60 82.50,374.80 88.00,378.00 93.50,381.20 99.00,383.90 104.00,386.50 109.50,388.30 115.90,390.60 122.30,393.40 128.80,394.80 135.20,396.60 142.00,398.20 149.30,399.30 156.50,400.40 163.80,401.50 171.10,402.90 178.40,404.00 182.00,404.50 194.50,406.00 205.00,407.50 253.00,407.80" fill="none" stroke="#6c6cff" stroke-width="1.3" stroke-linejoin="round"/><polyline points="29.00,337.50 33.50,341.00 37.20,342.80 41.80,346.10 45.40,348.80 50.00,349.70 55.50,352.00 60.10,355.70 64.70,358.90 69.70,360.60 73.30,363.30 78.80,366.10 84.30,370.20 89.90,372.50 96.30,374.80 100.90,377.50 104.00,379.20 109.50,381.50 115.90,384.70 122.30,387.40 128.80,390.20 135.20,392.50 140.70,394.30 144.00,395.50 149.30,396.60 156.50,397.80 163.80,399.10 171.10,400.40 178.40,402.20 182.00,403.30 194.50,405.50 201.80,406.50 207.00,407.50 253.00,407.80" fill="none" stroke="#f6f640" stroke-width="1.3" stroke-linejoin="round"/><polyline points="29.00,361.70 35.30,363.00 41.80,365.80 45.90,367.60 53.30,371.90 59.70,375.00 63.90,377.10 68.00,378.60 71.50,380.30 77.00,381.70 82.50,383.90 88.00,384.90 93.50,387.20 98.10,389.00 104.00,390.90 110.40,391.60 114.10,392.90 118.70,395.20 125.10,396.60 131.50,398.40 137.90,399.80 142.00,400.70 149.30,402.20 156.50,403.30 163.80,404.00 171.10,405.10 178.40,406.20 182.00,406.50 194.50,407.50 253.00,407.80" fill="none" stroke="#ff6262" stroke-width="1.3" stroke-linejoin="round"/><polyline points="29.00,409.16 29.56,409.16 30.11,409.16 30.67,409.16 31.23,409.16 31.79,409.16 32.34,409.16 32.90,409.16 33.46,409.16 34.02,409.16 34.57,409.16 35.13,409.15 35.69,409.15 36.25,409.15 36.80,409.15 37.36,409.15 37.92,409.15 38.48,409.15 39.03,409.15 39.59,409.15 40.15,409.14 40.71,409.14 41.26,409.14 41.82,409.14 42.38,409.14 42.94,409.14 43.49,409.14 44.05,409.13 44.61,409.13 45.17,409.13 45.72,409.13 46.28,409.13 46.84,409.13 47.40,409.12 47.95,409.12 48.51,409.12 49.07,409.12 49.63,409.12 50.18,409.12 50.74,409.11 51.30,409.11 51.86,409.11 52.41,409.11 52.97,409.11 53.53,409.10 54.09,409.10 54.64,409.10 55.20,409.10 55.76,409.09 56.32,409.09 56.87,409.09 57.43,409.09 57.99,409.08 58.55,409.08 59.10,409.08 59.66,409.07 60.22,409.07 60.78,409.07 61.33,409.07 61.89,409.06 62.45,409.06 63.01,409.06 63.56,409.05 64.12,409.05 64.68,409.05 65.24,409.04 65.79,409.04 66.35,409.04 66.91,409.03 67.47,409.03 68.02,409.02 68.58,409.02 69.14,409.02 69.70,409.01 70.25,409.01 70.81,409.00 71.37,409.00 71.93,408.99 72.48,408.99 73.04,408.98 73.60,408.98 74.16,408.97 74.71,408.97 75.27,408.96 75.83,408.96 76.39,408.95 76.94,408.94 77.50,408.94 78.06,408.93 78.62,408.93 79.17,408.92 79.73,408.91 80.29,408.91 80.85,408.90 81.40,408.89 81.96,408.89 82.52,408.88 83.08,408.87 83.63,408.86 84.19,408.86 84.75,408.85 85.31,408.84 85.86,408.83 86.42,408.82 86.98,408.81 87.54,408.80 88.09,408.80 88.65,408.79 89.21,408.78 89.77,408.77 90.32,408.76 90.88,408.75 91.44,408.74 92.00,408.72 92.55,408.71 93.11,408.70 93.67,408.69 94.23,408.68 94.78,408.67 95.34,408.65 95.90,408.64 96.46,408.63 97.01,408.62 97.57,408.60 98.13,408.59 98.69,408.57 99.24,408.56 99.80,408.54 100.36,408.53 100.92,408.51 101.47,408.50 102.03,408.48 102.59,408.46 103.15,408.45 103.70,408.43 104.26,408.41 104.82,408.39 105.38,408.37 105.93,408.35 106.49,408.33 107.05,408.31 107.61,408.29 108.16,408.27 108.72,408.25 109.28,408.23 109.84,408.21 110.39,408.18 110.95,408.16 111.51,408.14 112.07,408.11 112.62,408.09 113.18,408.06 113.74,408.03 114.30,408.01 114.85,407.98 115.41,407.95 115.97,407.92 116.53,407.89 117.08,407.86 117.64,407.83 118.20,407.80 118.76,407.76 119.31,407.73 119.87,407.70 120.43,407.66 120.99,407.63 121.54,407.59 122.10,407.55 122.66,407.51 123.22,407.47 123.77,407.43 124.33,407.39 124.89,407.35 125.45,407.31 126.00,407.26 126.56,407.22 127.12,407.17 127.68,407.12 128.23,407.08 128.79,407.03 129.35,406.98 129.91,406.92 130.46,406.87 131.02,406.82 131.58,406.76 132.14,406.71 132.69,406.65 133.25,406.59 133.81,406.53 134.37,406.46 134.92,406.40 135.48,406.34 136.04,406.27 136.60,406.20 137.15,406.13 137.71,406.06 138.27,405.99 138.83,405.91 139.38,405.83 139.94,405.76 140.50,405.68 141.06,405.59 141.61,405.51 142.17,405.42 142.73,405.34 143.29,405.25 143.84,405.15 144.40,405.06 144.96,404.96 145.52,404.86 146.07,404.76 146.63,404.66 147.19,404.55 147.75,404.45 148.30,404.34 148.86,404.22 149.42,404.11 149.98,403.99 150.53,403.87 151.09,403.74 151.65,403.61 152.21,403.48 152.76,403.35 153.32,403.22 153.88,403.08 154.44,402.93 154.99,402.79 155.55,402.64 156.11,402.49 156.67,402.33 157.22,402.17 157.78,402.00 158.34,401.84 158.90,401.67 159.45,401.49 160.01,401.31 160.57,401.13 161.13,400.94 161.68,400.75 162.24,400.55 162.80,400.35 163.36,400.14 163.91,399.93 164.47,399.72 165.03,399.49 165.59,399.27 166.14,399.04 166.70,398.80 167.26,398.56 167.82,398.31 168.37,398.06 168.93,397.80 169.49,397.53 170.05,397.26 170.60,396.98 171.16,396.70 171.72,396.41 172.28,396.11 172.83,395.80 173.39,395.49 173.95,395.17 174.51,394.84 175.06,394.51 175.62,394.17 176.18,393.82 176.74,393.46 177.29,393.09 177.85,392.72 178.41,392.33 178.97,391.94 179.52,391.54 180.08,391.13 180.64,390.71 181.20,390.27 181.75,389.83 182.31,389.38 182.87,388.92 183.43,388.45 183.98,387.97 184.54,387.47 185.10,386.97 185.66,386.45 186.21,385.92 186.77,385.37 187.33,384.82 187.89,384.25 188.44,383.67 189.00,383.08 189.56,382.47 190.12,381.85 190.67,381.21 191.23,380.56 191.79,379.89 192.35,379.21 192.90,378.51 193.46,377.79 194.02,377.06 194.58,376.31 195.13,375.55 195.69,374.76 196.25,373.96 196.81,373.14 197.36,372.30 197.92,371.44 198.48,370.56 199.04,369.66 199.59,368.74 200.15,367.80 200.71,366.83 201.27,365.85 201.82,364.84 202.38,363.80 202.94,362.74 203.50,361.66 204.05,360.56 204.61,359.42 205.17,358.26 205.73,357.08 206.28,355.86 206.84,354.62 207.40,353.35 207.96,352.05 208.51,350.72 209.07,349.35 209.63,347.96 210.19,346.53 210.74,345.07 211.30,343.58 211.86,342.05 212.42,340.49 212.97,338.89 213.53,337.25 214.09,335.57 214.65,333.86 215.20,332.10 215.76,330.31 216.32,328.47 216.88,326.59 217.43,324.67 217.99,322.70 218.55,320.68 219.11,318.62 219.66,316.51 220.22,314.35 220.78,312.14 221.34,309.88 221.89,307.57 222.45,305.20 223.01,302.78 223.57,300.30 224.12,297.76 224.68,295.17 225.24,292.51 225.80,289.79 226.35,287.01 226.91,284.16 227.47,281.25 228.03,278.27 228.58,275.22 229.14,272.10 229.70,268.91 230.26,265.64 230.81,262.30 231.37,258.87 231.93,255.37 232.49,251.79 233.04,248.12 233.60,244.37 234.16,240.53 234.72,236.60 235.27,232.58 235.83,228.47" fill="none" stroke="#2af2f2" stroke-width="1.55" stroke-linejoin="round"/></g>
<text transform="translate(26.00 412.50) scale(1 1.080)" font-size="7" text-anchor="end">0</text>
<text transform="translate(26.00 394.88) scale(1 1.080)" font-size="7" text-anchor="end">0.05</text>
<text transform="translate(26.00 377.26) scale(1 1.080)" font-size="7" text-anchor="end">0.1</text>
<text transform="translate(26.00 359.64) scale(1 1.080)" font-size="7" text-anchor="end">0.15</text>
<text transform="translate(26.00 342.02) scale(1 1.080)" font-size="7" text-anchor="end">0.2</text>
<text transform="translate(26.00 324.40) scale(1 1.080)" font-size="7" text-anchor="end">0.25</text>
<text transform="translate(26.00 306.78) scale(1 1.080)" font-size="7" text-anchor="end">0.3</text>
<text transform="translate(26.00 289.16) scale(1 1.080)" font-size="7" text-anchor="end">0.35</text>
<text transform="translate(26.00 271.54) scale(1 1.080)" font-size="7" text-anchor="end">0.4</text>
<text transform="translate(26.00 253.92) scale(1 1.080)" font-size="7" text-anchor="end">0.45</text>
<text transform="translate(26.00 236.30) scale(1 1.080)" font-size="7" text-anchor="end">0.5</text>
<text transform="translate(29.00 420.50) scale(1 1.080)" font-size="6.4" text-anchor="middle">10<tspan font-size="5" dy="-2.9">−4</tspan></text>
<text transform="translate(84.75 420.50) scale(1 1.080)" font-size="6.4" text-anchor="middle">10<tspan font-size="5" dy="-2.9">−3</tspan></text>
<text transform="translate(140.50 420.50) scale(1 1.080)" font-size="6.4" text-anchor="middle">10<tspan font-size="5" dy="-2.9">−2</tspan></text>
<text transform="translate(196.25 420.50) scale(1 1.080)" font-size="6.4" text-anchor="middle">10<tspan font-size="5" dy="-2.9">−1</tspan></text>
<text transform="translate(252.00 420.50) scale(1 1.080)" font-size="6.4" text-anchor="middle">10<tspan font-size="5" dy="-2.9">0</tspan></text>
<text transform="translate(140.50 430.60) scale(1 1.080)" font-size="7.6" text-anchor="middle">FAR</text>
<text transform="translate(8.40 321.10) rotate(-90) scale(1 1.080)" font-size="7.6" text-anchor="middle">FRR</text>
<text transform="translate(140.50 228.90) scale(1 1.080)" font-size="7.6" text-anchor="middle">CASIA-Lamp</text>
<g><line x1="334.18" y1="233.00" x2="334.18" y2="409.20" stroke="#ececec" stroke-width="0.8" stroke-dasharray="none"/><line x1="344.00" y1="233.00" x2="344.00" y2="409.20" stroke="#ececec" stroke-width="0.8" stroke-dasharray="none"/><line x1="350.96" y1="233.00" x2="350.96" y2="409.20" stroke="#ececec" stroke-width="0.8" stroke-dasharray="none"/><line x1="356.37" y1="233.00" x2="356.37" y2="409.20" stroke="#ececec" stroke-width="0.8" stroke-dasharray="none"/><line x1="360.78" y1="233.00" x2="360.78" y2="409.20" stroke="#ececec" stroke-width="0.8" stroke-dasharray="none"/><line x1="364.51" y1="233.00" x2="364.51" y2="409.20" stroke="#ececec" stroke-width="0.8" stroke-dasharray="none"/><line x1="367.75" y1="233.00" x2="367.75" y2="409.20" stroke="#ececec" stroke-width="0.8" stroke-dasharray="none"/><line x1="370.60" y1="233.00" x2="370.60" y2="409.20" stroke="#ececec" stroke-width="0.8" stroke-dasharray="none"/><line x1="389.93" y1="233.00" x2="389.93" y2="409.20" stroke="#ececec" stroke-width="0.8" stroke-dasharray="none"/><line x1="399.75" y1="233.00" x2="399.75" y2="409.20" stroke="#ececec" stroke-width="0.8" stroke-dasharray="none"/><line x1="406.71" y1="233.00" x2="406.71" y2="409.20" stroke="#ececec" stroke-width="0.8" stroke-dasharray="none"/><line x1="412.12" y1="233.00" x2="412.12" y2="409.20" stroke="#ececec" stroke-width="0.8" stroke-dasharray="none"/><line x1="416.53" y1="233.00" x2="416.53" y2="409.20" stroke="#ececec" stroke-width="0.8" stroke-dasharray="none"/><line x1="420.26" y1="233.00" x2="420.26" y2="409.20" stroke="#ececec" stroke-width="0.8" stroke-dasharray="none"/><line x1="423.50" y1="233.00" x2="423.50" y2="409.20" stroke="#ececec" stroke-width="0.8" stroke-dasharray="none"/><line x1="426.35" y1="233.00" x2="426.35" y2="409.20" stroke="#ececec" stroke-width="0.8" stroke-dasharray="none"/><line x1="445.68" y1="233.00" x2="445.68" y2="409.20" stroke="#ececec" stroke-width="0.8" stroke-dasharray="none"/><line x1="455.50" y1="233.00" x2="455.50" y2="409.20" stroke="#ececec" stroke-width="0.8" stroke-dasharray="none"/><line x1="462.46" y1="233.00" x2="462.46" y2="409.20" stroke="#ececec" stroke-width="0.8" stroke-dasharray="none"/><line x1="467.87" y1="233.00" x2="467.87" y2="409.20" stroke="#ececec" stroke-width="0.8" stroke-dasharray="none"/><line x1="472.28" y1="233.00" x2="472.28" y2="409.20" stroke="#ececec" stroke-width="0.8" stroke-dasharray="none"/><line x1="476.01" y1="233.00" x2="476.01" y2="409.20" stroke="#ececec" stroke-width="0.8" stroke-dasharray="none"/><line x1="479.25" y1="233.00" x2="479.25" y2="409.20" stroke="#ececec" stroke-width="0.8" stroke-dasharray="none"/><line x1="482.10" y1="233.00" x2="482.10" y2="409.20" stroke="#ececec" stroke-width="0.8" stroke-dasharray="none"/><line x1="501.43" y1="233.00" x2="501.43" y2="409.20" stroke="#ececec" stroke-width="0.8" stroke-dasharray="none"/><line x1="511.25" y1="233.00" x2="511.25" y2="409.20" stroke="#ececec" stroke-width="0.8" stroke-dasharray="none"/><line x1="518.21" y1="233.00" x2="518.21" y2="409.20" stroke="#ececec" stroke-width="0.8" stroke-dasharray="none"/><line x1="523.62" y1="233.00" x2="523.62" y2="409.20" stroke="#ececec" stroke-width="0.8" stroke-dasharray="none"/><line x1="528.03" y1="233.00" x2="528.03" y2="409.20" stroke="#ececec" stroke-width="0.8" stroke-dasharray="none"/><line x1="531.76" y1="233.00" x2="531.76" y2="409.20" stroke="#ececec" stroke-width="0.8" stroke-dasharray="none"/><line x1="535.00" y1="233.00" x2="535.00" y2="409.20" stroke="#ececec" stroke-width="0.8" stroke-dasharray="none"/><line x1="537.85" y1="233.00" x2="537.85" y2="409.20" stroke="#ececec" stroke-width="0.8" stroke-dasharray="none"/><line x1="373.15" y1="233.00" x2="373.15" y2="409.20" stroke="#e9e9e9" stroke-width="1"/><line x1="428.90" y1="233.00" x2="428.90" y2="409.20" stroke="#e9e9e9" stroke-width="1"/><line x1="484.65" y1="233.00" x2="484.65" y2="409.20" stroke="#e9e9e9" stroke-width="1"/><line x1="317.40" y1="391.58" x2="540.40" y2="391.58" stroke="#e9e9e9" stroke-width="1"/><line x1="317.40" y1="373.96" x2="540.40" y2="373.96" stroke="#e9e9e9" stroke-width="1"/><line x1="317.40" y1="356.34" x2="540.40" y2="356.34" stroke="#e9e9e9" stroke-width="1"/><line x1="317.40" y1="338.72" x2="540.40" y2="338.72" stroke="#e9e9e9" stroke-width="1"/><line x1="317.40" y1="321.10" x2="540.40" y2="321.10" stroke="#e9e9e9" stroke-width="1"/><line x1="317.40" y1="303.48" x2="540.40" y2="303.48" stroke="#e9e9e9" stroke-width="1"/><line x1="317.40" y1="285.86" x2="540.40" y2="285.86" stroke="#e9e9e9" stroke-width="1"/><line x1="317.40" y1="268.24" x2="540.40" y2="268.24" stroke="#e9e9e9" stroke-width="1"/><line x1="317.40" y1="250.62" x2="540.40" y2="250.62" stroke="#e9e9e9" stroke-width="1"/></g>
<rect x="317.40" y="233.00" width="223.00" height="176.20" fill="none" stroke="#6e6e6e" stroke-width="1.2"/>
<path d="M317.40 409.20h2.20M540.40 409.20h-2.20M317.40 391.58h2.20M540.40 391.58h-2.20M317.40 373.96h2.20M540.40 373.96h-2.20M317.40 356.34h2.20M540.40 356.34h-2.20M317.40 338.72h2.20M540.40 338.72h-2.20M317.40 321.10h2.20M540.40 321.10h-2.20M317.40 303.48h2.20M540.40 303.48h-2.20M317.40 285.86h2.20M540.40 285.86h-2.20M317.40 268.24h2.20M540.40 268.24h-2.20M317.40 250.62h2.20M540.40 250.62h-2.20M317.40 233.00h2.20M540.40 233.00h-2.20M317.40 409.20v-2.20M317.40 233.00v2.20M373.15 409.20v-2.20M373.15 233.00v2.20M428.90 409.20v-2.20M428.90 233.00v2.20M484.65 409.20v-2.20M484.65 233.00v2.20M540.40 409.20v-2.20M540.40 233.00v2.20M334.18 409.20v-1.20M334.18 233.00v1.20M344.00 409.20v-1.20M344.00 233.00v1.20M350.96 409.20v-1.20M350.96 233.00v1.20M356.37 409.20v-1.20M356.37 233.00v1.20M360.78 409.20v-1.20M360.78 233.00v1.20M364.51 409.20v-1.20M364.51 233.00v1.20M367.75 409.20v-1.20M367.75 233.00v1.20M370.60 409.20v-1.20M370.60 233.00v1.20M389.93 409.20v-1.20M389.93 233.00v1.20M399.75 409.20v-1.20M399.75 233.00v1.20M406.71 409.20v-1.20M406.71 233.00v1.20M412.12 409.20v-1.20M412.12 233.00v1.20M416.53 409.20v-1.20M416.53 233.00v1.20M420.26 409.20v-1.20M420.26 233.00v1.20M423.50 409.20v-1.20M423.50 233.00v1.20M426.35 409.20v-1.20M426.35 233.00v1.20M445.68 409.20v-1.20M445.68 233.00v1.20M455.50 409.20v-1.20M455.50 233.00v1.20M462.46 409.20v-1.20M462.46 233.00v1.20M467.87 409.20v-1.20M467.87 233.00v1.20M472.28 409.20v-1.20M472.28 233.00v1.20M476.01 409.20v-1.20M476.01 233.00v1.20M479.25 409.20v-1.20M479.25 233.00v1.20M482.10 409.20v-1.20M482.10 233.00v1.20M501.43 409.20v-1.20M501.43 233.00v1.20M511.25 409.20v-1.20M511.25 233.00v1.20M518.21 409.20v-1.20M518.21 233.00v1.20M523.62 409.20v-1.20M523.62 233.00v1.20M528.03 409.20v-1.20M528.03 233.00v1.20M531.76 409.20v-1.20M531.76 233.00v1.20M535.00 409.20v-1.20M535.00 233.00v1.20M537.85 409.20v-1.20M537.85 233.00v1.20" stroke="#6e6e6e" stroke-width="1" fill="none"/>
<g clip-path="url(#cBR)"><polyline points="317.60,339.60 318.70,341.90 320.50,343.70 324.20,346.00 327.80,347.80 331.10,350.10 332.40,352.00 336.10,353.30 340.70,355.60 345.30,357.90 349.90,360.20 353.00,361.50 356.70,363.30 360.30,365.10 364.00,367.90 367.70,371.60 371.30,372.50 375.00,374.80 378.70,378.00 383.30,379.80 387.90,382.60 393.00,385.10 396.60,386.50 402.30,388.80 407.90,391.60 413.60,393.50 419.20,394.90 424.90,396.40 429.00,396.90 436.30,398.50 443.50,400.40 450.80,401.80 458.10,403.60 465.40,404.70 469.00,405.50 474.30,406.50 481.50,407.30 490.00,408.00 541.00,408.20" fill="none" stroke="#1ef064" stroke-width="1.3" stroke-linejoin="round"/><polyline points="317.60,363.00 320.50,364.80 326.60,367.30 331.90,370.80 337.20,374.00 342.40,375.60 345.60,376.60 349.80,380.30 353.00,382.50 357.40,384.40 361.00,385.50 363.90,387.30 367.50,389.50 371.90,390.90 376.30,392.40 380.60,394.90 385.00,396.40 391.00,397.50 396.60,398.70 405.10,401.10 413.60,402.90 422.10,404.10 431.00,404.80 436.30,405.50 447.20,406.50 469.00,407.60 490.00,408.10 541.00,408.20" fill="none" stroke="#6c6cff" stroke-width="1.3" stroke-linejoin="round"/><polyline points="317.60,344.90 320.50,346.90 326.00,349.70 330.60,352.90 335.20,355.20 340.70,358.40 346.20,361.10 351.70,363.40 353.00,364.70 358.50,368.30 364.00,371.60 369.50,373.90 375.00,376.60 380.50,379.40 386.00,381.70 393.00,385.10 396.60,386.80 402.30,389.20 407.90,392.00 413.60,393.90 419.20,395.50 424.90,397.20 429.00,398.50 436.30,400.40 443.50,402.50 450.80,403.60 458.10,404.70 469.00,405.80 474.30,406.50 481.50,407.30 490.00,408.00 541.00,408.20" fill="none" stroke="#f6f640" stroke-width="1.3" stroke-linejoin="round"/><polyline points="317.60,368.20 321.30,370.80 326.60,376.10 331.90,378.70 337.20,380.80 342.40,384.00 346.70,386.60 350.90,387.70 353.00,388.40 358.80,390.20 363.90,392.00 369.00,393.80 374.80,394.90 379.90,396.00 385.00,397.50 391.00,398.40 396.60,400.10 405.10,402.00 413.60,402.90 422.10,404.40 431.00,405.50 469.00,407.60 490.00,408.10 541.00,408.20" fill="none" stroke="#ff6262" stroke-width="1.3" stroke-linejoin="round"/><polyline points="317.40,409.16 317.96,409.16 318.51,409.16 319.07,409.16 319.63,409.16 320.19,409.16 320.74,409.16 321.30,409.16 321.86,409.16 322.42,409.16 322.97,409.16 323.53,409.15 324.09,409.15 324.65,409.15 325.20,409.15 325.76,409.15 326.32,409.15 326.88,409.15 327.43,409.15 327.99,409.15 328.55,409.14 329.11,409.14 329.66,409.14 330.22,409.14 330.78,409.14 331.34,409.14 331.89,409.14 332.45,409.13 333.01,409.13 333.57,409.13 334.12,409.13 334.68,409.13 335.24,409.13 335.80,409.12 336.35,409.12 336.91,409.12 337.47,409.12 338.03,409.12 338.58,409.12 339.14,409.11 339.70,409.11 340.26,409.11 340.81,409.11 341.37,409.11 341.93,409.10 342.49,409.10 343.04,409.10 343.60,409.10 344.16,409.09 344.72,409.09 345.27,409.09 345.83,409.09 346.39,409.08 346.95,409.08 347.50,409.08 348.06,409.07 348.62,409.07 349.18,409.07 349.73,409.07 350.29,409.06 350.85,409.06 351.41,409.06 351.96,409.05 352.52,409.05 353.08,409.05 353.64,409.04 354.19,409.04 354.75,409.04 355.31,409.03 355.87,409.03 356.42,409.02 356.98,409.02 357.54,409.02 358.10,409.01 358.65,409.01 359.21,409.00 359.77,409.00 360.33,408.99 360.88,408.99 361.44,408.98 362.00,408.98 362.56,408.97 363.11,408.97 363.67,408.96 364.23,408.96 364.79,408.95 365.34,408.94 365.90,408.94 366.46,408.93 367.02,408.93 367.57,408.92 368.13,408.91 368.69,408.91 369.25,408.90 369.80,408.89 370.36,408.89 370.92,408.88 371.48,408.87 372.03,408.86 372.59,408.86 373.15,408.85 373.71,408.84 374.26,408.83 374.82,408.82 375.38,408.81 375.94,408.80 376.49,408.80 377.05,408.79 377.61,408.78 378.17,408.77 378.72,408.76 379.28,408.75 379.84,408.74 380.40,408.72 380.95,408.71 381.51,408.70 382.07,408.69 382.63,408.68 383.18,408.67 383.74,408.65 384.30,408.64 384.86,408.63 385.41,408.62 385.97,408.60 386.53,408.59 387.09,408.57 387.64,408.56 388.20,408.54 388.76,408.53 389.32,408.51 389.87,408.50 390.43,408.48 390.99,408.46 391.55,408.45 392.10,408.43 392.66,408.41 393.22,408.39 393.78,408.37 394.33,408.35 394.89,408.33 395.45,408.31 396.01,408.29 396.56,408.27 397.12,408.25 397.68,408.23 398.24,408.21 398.79,408.18 399.35,408.16 399.91,408.14 400.47,408.11 401.02,408.09 401.58,408.06 402.14,408.03 402.70,408.01 403.25,407.98 403.81,407.95 404.37,407.92 404.93,407.89 405.48,407.86 406.04,407.83 406.60,407.80 407.16,407.76 407.71,407.73 408.27,407.70 408.83,407.66 409.39,407.63 409.94,407.59 410.50,407.55 411.06,407.51 411.62,407.47 412.17,407.43 412.73,407.39 413.29,407.35 413.85,407.31 414.40,407.26 414.96,407.22 415.52,407.17 416.08,407.12 416.63,407.08 417.19,407.03 417.75,406.98 418.31,406.92 418.86,406.87 419.42,406.82 419.98,406.76 420.54,406.71 421.09,406.65 421.65,406.59 422.21,406.53 422.77,406.46 423.32,406.40 423.88,406.34 424.44,406.27 425.00,406.20 425.55,406.13 426.11,406.06 426.67,405.99 427.23,405.91 427.78,405.83 428.34,405.76 428.90,405.68 429.46,405.59 430.01,405.51 430.57,405.42 431.13,405.34 431.69,405.25 432.24,405.15 432.80,405.06 433.36,404.96 433.92,404.86 434.47,404.76 435.03,404.66 435.59,404.55 436.15,404.45 436.70,404.34 437.26,404.22 437.82,404.11 438.38,403.99 438.93,403.87 439.49,403.74 440.05,403.61 440.61,403.48 441.16,403.35 441.72,403.22 442.28,403.08 442.84,402.93 443.39,402.79 443.95,402.64 444.51,402.49 445.07,402.33 445.62,402.17 446.18,402.00 446.74,401.84 447.30,401.67 447.85,401.49 448.41,401.31 448.97,401.13 449.53,400.94 450.08,400.75 450.64,400.55 451.20,400.35 451.76,400.14 452.31,399.93 452.87,399.72 453.43,399.49 453.99,399.27 454.54,399.04 455.10,398.80 455.66,398.56 456.22,398.31 456.77,398.06 457.33,397.80 457.89,397.53 458.45,397.26 459.00,396.98 459.56,396.70 460.12,396.41 460.68,396.11 461.23,395.80 461.79,395.49 462.35,395.17 462.91,394.84 463.46,394.51 464.02,394.17 464.58,393.82 465.14,393.46 465.69,393.09 466.25,392.72 466.81,392.33 467.37,391.94 467.92,391.54 468.48,391.13 469.04,390.71 469.60,390.27 470.15,389.83 470.71,389.38 471.27,388.92 471.83,388.45 472.38,387.97 472.94,387.47 473.50,386.97 474.06,386.45 474.61,385.92 475.17,385.37 475.73,384.82 476.29,384.25 476.84,383.67 477.40,383.08 477.96,382.47 478.52,381.85 479.07,381.21 479.63,380.56 480.19,379.89 480.75,379.21 481.30,378.51 481.86,377.79 482.42,377.06 482.98,376.31 483.53,375.55 484.09,374.76 484.65,373.96 485.21,373.14 485.76,372.30 486.32,371.44 486.88,370.56 487.44,369.66 487.99,368.74 488.55,367.80 489.11,366.83 489.67,365.85 490.22,364.84 490.78,363.80 491.34,362.74 491.90,361.66 492.45,360.56 493.01,359.42 493.57,358.26 494.13,357.08 494.68,355.86 495.24,354.62 495.80,353.35 496.36,352.05 496.91,350.72 497.47,349.35 498.03,347.96 498.59,346.53 499.14,345.07 499.70,343.58 500.26,342.05 500.82,340.49 501.37,338.89 501.93,337.25 502.49,335.57 503.05,333.86 503.60,332.10 504.16,330.31 504.72,328.47 505.28,326.59 505.83,324.67 506.39,322.70 506.95,320.68 507.51,318.62 508.06,316.51 508.62,314.35 509.18,312.14 509.74,309.88 510.29,307.57 510.85,305.20 511.41,302.78 511.97,300.30 512.52,297.76 513.08,295.17 513.64,292.51 514.20,289.79 514.75,287.01 515.31,284.16 515.87,281.25 516.43,278.27 516.98,275.22 517.54,272.10 518.10,268.91 518.66,265.64 519.21,262.30 519.77,258.87 520.33,255.37 520.89,251.79 521.44,248.12 522.00,244.37 522.56,240.53 523.12,236.60 523.67,232.58 524.23,228.47" fill="none" stroke="#2af2f2" stroke-width="1.55" stroke-linejoin="round"/></g>
<text transform="translate(314.40 412.50) scale(1 1.080)" font-size="7" text-anchor="end">0</text>
<text transform="translate(314.40 394.88) scale(1 1.080)" font-size="7" text-anchor="end">0.05</text>
<text transform="translate(314.40 377.26) scale(1 1.080)" font-size="7" text-anchor="end">0.1</text>
<text transform="translate(314.40 359.64) scale(1 1.080)" font-size="7" text-anchor="end">0.15</text>
<text transform="translate(314.40 342.02) scale(1 1.080)" font-size="7" text-anchor="end">0.2</text>
<text transform="translate(314.40 324.40) scale(1 1.080)" font-size="7" text-anchor="end">0.25</text>
<text transform="translate(314.40 306.78) scale(1 1.080)" font-size="7" text-anchor="end">0.3</text>
<text transform="translate(314.40 289.16) scale(1 1.080)" font-size="7" text-anchor="end">0.35</text>
<text transform="translate(314.40 271.54) scale(1 1.080)" font-size="7" text-anchor="end">0.4</text>
<text transform="translate(314.40 253.92) scale(1 1.080)" font-size="7" text-anchor="end">0.45</text>
<text transform="translate(314.40 236.30) scale(1 1.080)" font-size="7" text-anchor="end">0.5</text>
<text transform="translate(317.40 420.50) scale(1 1.080)" font-size="6.4" text-anchor="middle">10<tspan font-size="5" dy="-2.9">−4</tspan></text>
<text transform="translate(373.15 420.50) scale(1 1.080)" font-size="6.4" text-anchor="middle">10<tspan font-size="5" dy="-2.9">−3</tspan></text>
<text transform="translate(428.90 420.50) scale(1 1.080)" font-size="6.4" text-anchor="middle">10<tspan font-size="5" dy="-2.9">−2</tspan></text>
<text transform="translate(484.65 420.50) scale(1 1.080)" font-size="6.4" text-anchor="middle">10<tspan font-size="5" dy="-2.9">−1</tspan></text>
<text transform="translate(540.40 420.50) scale(1 1.080)" font-size="6.4" text-anchor="middle">10<tspan font-size="5" dy="-2.9">0</tspan></text>
<text transform="translate(428.90 430.60) scale(1 1.080)" font-size="7.6" text-anchor="middle">FAR</text>
<text transform="translate(296.80 321.10) rotate(-90) scale(1 1.080)" font-size="7.6" text-anchor="middle">FRR</text>
<text transform="translate(428.90 228.90) scale(1 1.080)" font-size="7.6" text-anchor="middle">CASIA-M1-S2</text>
<rect x="109.00" y="22.00" width="62.60" height="44.10" fill="#fff" stroke="#6e6e6e" stroke-width="1"/>
<line x1="111.30" y1="27.60" x2="131.30" y2="27.60" stroke="#1ef064" stroke-width="1.3" stroke-opacity="0.8"/>
<text style="fill:#555;stroke:#555;stroke-width:0.22px" transform="translate(133.20 29.90) scale(1 1.080)" font-size="6.15">Maxout</text>
<line x1="111.30" y1="36.10" x2="131.30" y2="36.10" stroke="#6c6cff" stroke-width="1.3" stroke-opacity="0.8"/>
<text style="fill:#555;stroke:#555;stroke-width:0.22px" transform="translate(133.20 38.40) scale(1 1.080)" font-size="6.15">MobileNet-v2</text>
<line x1="111.30" y1="44.60" x2="131.30" y2="44.60" stroke="#f6f640" stroke-width="1.3" stroke-opacity="0.8"/>
<text style="fill:#555;stroke:#555;stroke-width:0.22px" transform="translate(133.20 46.90) scale(1 1.080)" font-size="6.15">ResNet-18</text>
<line x1="111.30" y1="53.10" x2="131.30" y2="53.10" stroke="#ff6262" stroke-width="1.3" stroke-opacity="0.8"/>
<text style="fill:#555;stroke:#555;stroke-width:0.22px" transform="translate(133.20 55.40) scale(1 1.080)" font-size="6.15">Ours</text>
<line x1="111.30" y1="61.60" x2="131.30" y2="61.60" stroke="#2af2f2" stroke-width="1.3" stroke-opacity="0.8"/>
<text style="fill:#555;stroke:#555;stroke-width:0.22px" transform="translate(133.20 63.90) scale(1 1.080)" font-size="6.15">EER</text>
<rect x="397.40" y="22.00" width="62.60" height="44.10" fill="#fff" stroke="#6e6e6e" stroke-width="1"/>
<line x1="399.70" y1="27.60" x2="419.70" y2="27.60" stroke="#1ef064" stroke-width="1.3" stroke-opacity="0.8"/>
<text style="fill:#555;stroke:#555;stroke-width:0.22px" transform="translate(421.60 29.90) scale(1 1.080)" font-size="6.15">Maxout</text>
<line x1="399.70" y1="36.10" x2="419.70" y2="36.10" stroke="#6c6cff" stroke-width="1.3" stroke-opacity="0.8"/>
<text style="fill:#555;stroke:#555;stroke-width:0.22px" transform="translate(421.60 38.40) scale(1 1.080)" font-size="6.15">MobileNet-v2</text>
<line x1="399.70" y1="44.60" x2="419.70" y2="44.60" stroke="#f6f640" stroke-width="1.3" stroke-opacity="0.8"/>
<text style="fill:#555;stroke:#555;stroke-width:0.22px" transform="translate(421.60 46.90) scale(1 1.080)" font-size="6.15">ResNet-18</text>
<line x1="399.70" y1="53.10" x2="419.70" y2="53.10" stroke="#ff6262" stroke-width="1.3" stroke-opacity="0.8"/>
<text style="fill:#555;stroke:#555;stroke-width:0.22px" transform="translate(421.60 55.40) scale(1 1.080)" font-size="6.15">Ours</text>
<line x1="399.70" y1="61.60" x2="419.70" y2="61.60" stroke="#2af2f2" stroke-width="1.3" stroke-opacity="0.8"/>
<text style="fill:#555;stroke:#555;stroke-width:0.22px" transform="translate(421.60 63.90) scale(1 1.080)" font-size="6.15">EER</text>
<rect x="109.00" y="238.60" width="62.60" height="44.10" fill="#fff" stroke="#6e6e6e" stroke-width="1"/>
<line x1="111.30" y1="244.20" x2="131.30" y2="244.20" stroke="#1ef064" stroke-width="1.3" stroke-opacity="0.8"/>
<text style="fill:#555;stroke:#555;stroke-width:0.22px" transform="translate(133.20 246.50) scale(1 1.080)" font-size="6.15">Maxout</text>
<line x1="111.30" y1="252.70" x2="131.30" y2="252.70" stroke="#6c6cff" stroke-width="1.3" stroke-opacity="0.8"/>
<text style="fill:#555;stroke:#555;stroke-width:0.22px" transform="translate(133.20 255.00) scale(1 1.080)" font-size="6.15">MobileNet-v2</text>
<line x1="111.30" y1="261.20" x2="131.30" y2="261.20" stroke="#f6f640" stroke-width="1.3" stroke-opacity="0.8"/>
<text style="fill:#555;stroke:#555;stroke-width:0.22px" transform="translate(133.20 263.50) scale(1 1.080)" font-size="6.15">ResNet-18</text>
<line x1="111.30" y1="269.70" x2="131.30" y2="269.70" stroke="#ff6262" stroke-width="1.3" stroke-opacity="0.8"/>
<text style="fill:#555;stroke:#555;stroke-width:0.22px" transform="translate(133.20 272.00) scale(1 1.080)" font-size="6.15">Ours</text>
<line x1="111.30" y1="278.20" x2="131.30" y2="278.20" stroke="#2af2f2" stroke-width="1.3" stroke-opacity="0.8"/>
<text style="fill:#555;stroke:#555;stroke-width:0.22px" transform="translate(133.20 280.50) scale(1 1.080)" font-size="6.15">EER</text>
<rect x="397.40" y="238.60" width="62.60" height="44.10" fill="#fff" stroke="#6e6e6e" stroke-width="1"/>
<line x1="399.70" y1="244.20" x2="419.70" y2="244.20" stroke="#1ef064" stroke-width="1.3" stroke-opacity="0.8"/>
<text style="fill:#555;stroke:#555;stroke-width:0.22px" transform="translate(421.60 246.50) scale(1 1.080)" font-size="6.15">Maxout</text>
<line x1="399.70" y1="252.70" x2="419.70" y2="252.70" stroke="#6c6cff" stroke-width="1.3" stroke-opacity="0.8"/>
<text style="fill:#555;stroke:#555;stroke-width:0.22px" transform="translate(421.60 255.00) scale(1 1.080)" font-size="6.15">MobileNet-v2</text>
<line x1="399.70" y1="261.20" x2="419.70" y2="261.20" stroke="#f6f640" stroke-width="1.3" stroke-opacity="0.8"/>
<text style="fill:#555;stroke:#555;stroke-width:0.22px" transform="translate(421.60 263.50) scale(1 1.080)" font-size="6.15">ResNet-18</text>
<line x1="399.70" y1="269.70" x2="419.70" y2="269.70" stroke="#ff6262" stroke-width="1.3" stroke-opacity="0.8"/>
<text style="fill:#555;stroke:#555;stroke-width:0.22px" transform="translate(421.60 272.00) scale(1 1.080)" font-size="6.15">Ours</text>
<line x1="399.70" y1="278.20" x2="419.70" y2="278.20" stroke="#2af2f2" stroke-width="1.3" stroke-opacity="0.8"/>
<text style="fill:#555;stroke:#555;stroke-width:0.22px" transform="translate(421.60 280.50) scale(1 1.080)" font-size="6.15">EER</text>
</g>
</svg></body></html>
